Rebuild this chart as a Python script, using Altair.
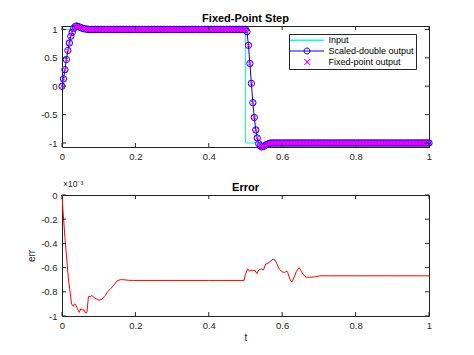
import altair as alt
import pandas as pd

# ---------------- data ----------------
TIME = [round(i * 0.004, 3) for i in range(251)]          # sample instants
INPUT_T = [0.0, 0.5, 0.5, 1.0]
INPUT_V = [1.0, 1.0, -1.0, -1.0]

RISE = [0.0, 0.13, 0.29, 0.47, 0.63, 0.76, 0.88, 0.95, 1.02, 1.05,
        1.06, 1.05, 1.04, 1.03, 1.02, 1.01, 1.01, 1.005, 1.0]
HIGH = [1.0] * 107
FALL = [0.96, 0.72, 0.40, 0.05, -0.29, -0.55, -0.77, -0.91, -1.01, -1.05,
        -1.07, -1.06, -1.05, -1.03, -1.02, -1.01]
LOW = [-1.0] * 109
SCALED = RISE + HIGH + FALL + LOW
FIXED = RISE + HIGH + FALL + LOW

ERR_T = [0, 0.002, 0.008, 0.017, 0.026, 0.031, 0.034, 0.038, 0.042, 0.047,
         0.051, 0.056, 0.060, 0.064, 0.068, 0.072, 0.077, 0.082, 0.088, 0.095,
         0.101, 0.109, 0.118, 0.124, 0.131, 0.141, 0.150, 0.159, 0.168, 0.182,
         0.195, 0.300, 0.400, 0.496, 0.500, 0.506, 0.511, 0.515, 0.520, 0.525,
         0.531, 0.536, 0.543, 0.549, 0.555, 0.561, 0.567, 0.575, 0.581, 0.585,
         0.593, 0.600, 0.606, 0.613, 0.615, 0.618, 0.622, 0.626, 0.629, 0.634,
         0.638, 0.646, 0.652, 0.658, 0.666, 0.675, 0.688, 0.702, 0.729, 0.800,
         0.900, 1.000]
ERR_V = [0, -0.10, -0.35, -0.68, -0.90, -0.92, -0.90, -0.91, -0.94, -0.97,
         -0.94, -0.95, -0.95, -0.975, -0.97, -0.84, -0.84, -0.83, -0.85, -0.86,
         -0.87, -0.86, -0.83, -0.80, -0.78, -0.745, -0.71, -0.70, -0.70, -0.705,
         -0.706, -0.706, -0.706, -0.706, -0.655, -0.61, -0.63, -0.62, -0.627, -0.62,
         -0.65, -0.62, -0.61, -0.62, -0.57, -0.566, -0.55, -0.53, -0.54, -0.566,
         -0.616, -0.635, -0.64, -0.63, -0.64, -0.67, -0.70, -0.72, -0.704, -0.67,
         -0.635, -0.60, -0.63, -0.66, -0.68, -0.68, -0.677, -0.668, -0.668, -0.668,
         -0.668, -0.668]

XTICKS = [0, 0.2, 0.4, 0.6, 0.8, 1]
YTICKS_TOP = [-1, -0.5, 0, 0.5, 1]
YTICKS_ERR = [0, -0.2, -0.4, -0.6, -0.8, -1]

SERIES = ["Input", "Scaled-double output", "Fixed-point output"]
COLORS = ["#00ffff", "#0000ff", "#ff00ff"]
LEGEND_SHAPES = [
    "M-1.43,0H8.29M-1.43,0.14H8.29",
    "M-1.43,0H8.29M4.29,0A0.857,0.857 0 1 1 2.57,0A0.857,0.857 0 1 1 4.29,0",
    "M2.63,-0.8L4.23,0.8M2.63,0.8L4.23,-0.8M2.77,-0.8L4.37,0.8M2.77,0.8L4.37,-0.8",
]
CROSS = "M-1,-1L1,1M-1,1L1,-1"
TOP_TITLE = "Fixed-Point Step"
ERR_TITLE = "Error"
ERR_SCALE_TEXT = "\u00d710\u207b\u00b3"

# ---------------- styling ----------------
W = 367
H1 = 121
H2 = 121
FONT = "Liberation Sans"
AXC = "#262626"
TICK = 4
LABEL_SIZE = 9.5

step_df = pd.DataFrame({"t": TIME, "scaled": SCALED, "fixed": FIXED})
input_df = pd.DataFrame({"t": INPUT_T, "v": INPUT_V, "o": list(range(len(INPUT_T)))})
err_df = pd.DataFrame({"t": ERR_T, "e": ERR_V})
leg_df = pd.DataFrame({"series": SERIES, "t": [2.0] * 3, "v": [0.0] * 3})
xt_df = pd.DataFrame({"t": XTICKS})

label_expr = "'' + datum.value"

xs = alt.Scale(domain=[0, 1], nice=False, zero=False)
# "axis tight": the y limits are the data extremes
ys1 = alt.Scale(domain=[min(SCALED), max(SCALED)], nice=False, zero=False)
ys2 = alt.Scale(domain=[-1, 0], nice=False, zero=False)


def make_axis(vals, pad, title=None, title_pad=4):
    kw = dict(values=vals, labelExpr=label_expr, domain=False, ticks=False,
              grid=False, labelPadding=pad, labelFontSize=LABEL_SIZE, labelFont=FONT,
              labelColor=AXC, labelFlush=False, labelOverlap=False,
              labelBound=False)
    if title:
        return alt.Axis(title=title, titleFont=FONT, titleFontSize=10,
                        titleFontWeight="normal", titleColor=AXC,
                        titlePadding=title_pad, **kw)
    return alt.Axis(title=None, **kw)


AX_X_TOP = make_axis(XTICKS, 4)
AX_Y_TOP = make_axis(YTICKS_TOP, 5)
AX_X_BOT = make_axis(XTICKS, 4, "t", 3)
AX_Y_BOT = make_axis(YTICKS_ERR, 5, "err", 4)


def tick_layers(h, yvals, yscale, ax_x, ax_y):
    yt_df = pd.DataFrame({"v": yvals})
    bottom = alt.Chart(xt_df).mark_rule(color=AXC, strokeWidth=1).encode(
        x=alt.X("t:Q", scale=xs, axis=ax_x), y=alt.value(h), y2=alt.value(h - TICK))
    top = alt.Chart(xt_df).mark_rule(color=AXC, strokeWidth=1).encode(
        x=alt.X("t:Q", scale=xs, axis=ax_x), y=alt.value(0), y2=alt.value(TICK))
    left = alt.Chart(yt_df).mark_rule(color=AXC, strokeWidth=1).encode(
        y=alt.Y("v:Q", scale=yscale, axis=ax_y), x=alt.value(0), x2=alt.value(TICK))
    right = alt.Chart(yt_df).mark_rule(color=AXC, strokeWidth=1).encode(
        y=alt.Y("v:Q", scale=yscale, axis=ax_y), x=alt.value(W), x2=alt.value(W - TICK))
    return [bottom, top, left, right]


def title_layer(text):
    return alt.Chart(pd.DataFrame({"s": [text]})).mark_text(
        align="center", baseline="alphabetic", font=FONT, fontSize=11,
        fontWeight="bold", color="black"
    ).encode(x=alt.value(W / 2), y=alt.value(-4), text="s:N")


# ---------------- top panel ----------------
def XT():
    return alt.X("t:Q", scale=xs, axis=AX_X_TOP)


def YT(field):
    return alt.Y(field, scale=ys1, axis=AX_Y_TOP)


input_line = alt.Chart(input_df).mark_line(color=COLORS[0], strokeWidth=1).encode(
    x=XT(), y=YT("v:Q"), order="o:Q")
scaled_line = alt.Chart(step_df).mark_line(color=COLORS[1], strokeWidth=1).encode(
    x=XT(), y=YT("scaled:Q"))
scaled_pts = alt.Chart(step_df).mark_point(
    shape="circle", filled=False, size=40, color=COLORS[1], strokeWidth=1, opacity=1
).encode(x=XT(), y=YT("scaled:Q"))
fixed_pts = alt.Chart(step_df).mark_point(
    shape=CROSS, filled=False, size=24, color=COLORS[2], strokeWidth=1, opacity=1
).encode(x=XT(), y=YT("fixed:Q"))

leg_common = dict(
    title=None, orient="none", legendX=227, legendY=8, strokeColor=AXC,
    fillColor="white", padding=1.5, symbolSize=49, symbolStrokeWidth=1,
    symbolOpacity=1, labelFontSize=9, labelFont=FONT, labelColor="black",
    labelOffset=29, rowPadding=0, symbolFillColor="transparent",
)
legend_layer = alt.Chart(leg_df).mark_point(filled=False, clip=True, opacity=1).encode(
    x=XT(),
    y=YT("v:Q"),
    color=alt.Color("series:N", scale=alt.Scale(domain=SERIES, range=COLORS),
                    legend=alt.Legend(**leg_common)),
    shape=alt.Shape("series:N", scale=alt.Scale(domain=SERIES, range=LEGEND_SHAPES),
                    legend=alt.Legend(**leg_common)),
)

top_chart = alt.layer(
    input_line, scaled_line, scaled_pts, fixed_pts, legend_layer,
    title_layer(TOP_TITLE), *tick_layers(H1, YTICKS_TOP, ys1, AX_X_TOP, AX_Y_TOP)
).properties(width=W, height=H1)

# ---------------- bottom panel ----------------
err_line = alt.Chart(err_df).mark_line(color="#ff0000", strokeWidth=1).encode(
    x=alt.X("t:Q", scale=xs, axis=AX_X_BOT),
    y=alt.Y("e:Q", scale=ys2, axis=AX_Y_BOT),
)
exp_text = alt.Chart(pd.DataFrame({"s": [ERR_SCALE_TEXT]})).mark_text(
    align="left", baseline="alphabetic", font=FONT, fontSize=8.5, color=AXC
).encode(x=alt.value(1), y=alt.value(-8), text="s:N")

bottom_chart = alt.layer(
    err_line, title_layer(ERR_TITLE), exp_text,
    *tick_layers(H2, YTICKS_ERR, ys2, AX_X_BOT, AX_Y_BOT)
).properties(width=W, height=H2)

chart = alt.vconcat(top_chart, bottom_chart, spacing=18).properties(
    padding={"left": 26, "top": 12, "right": 5, "bottom": 5},
    background="white",
).configure_view(
    stroke=AXC, strokeWidth=1
).configure_axis(
    labelOverlap=False
)

chart.save("out.html", embed_options={"renderer": "svg", "actions": False})
